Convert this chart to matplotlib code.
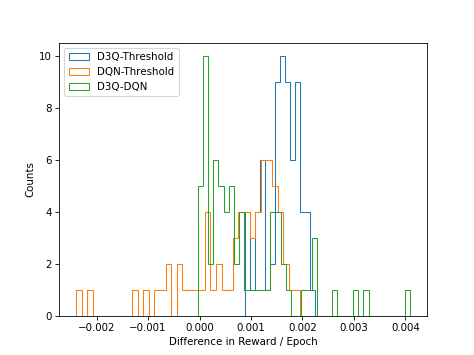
import numpy as np
import matplotlib
matplotlib.use("Agg")
import matplotlib.pyplot as plt

labels = ["D3Q-Threshold", "DQN-Threshold", "D3Q-DQN"]

# bin ranges (min, max) and counts per bin for each series
d3q_thr_range = (0.000883, 0.002243)
d3q_thr_counts = [4, 1, 4, 6, 1, 2, 9, 10, 9, 6, 9, 4, 4, 1]

dqn_thr_range = (-0.0024, 0.00195)
dqn_thr_counts = [1, 0, 1, 0, 0, 0, 0, 0, 0, 0,
                  1, 0, 1, 0, 1, 1, 2, 0, 2, 1,
                  1, 1, 1, 4, 1, 2, 1, 1, 3, 4,
                  4, 3, 4, 6, 6, 5, 4, 2, 1, 1]

d3q_dqn_range = (-0.000035, 0.004086)
d3q_dqn_counts = [5, 10, 2, 6, 5, 4, 5, 2, 4, 1,
                  1, 1, 1, 1, 4, 4, 2, 1, 0, 0,
                  1, 1, 3, 0, 0, 0, 1, 0, 0, 0,
                  1, 0, 1, 0, 0, 0, 0, 0, 0, 0, 1]

fig, ax = plt.subplots(figsize=(474 / 74, 355 / 74), dpi=74)

for rng, counts, lab in [(d3q_thr_range, d3q_thr_counts, labels[0]),
                         (dqn_thr_range, dqn_thr_counts, labels[1]),
                         (d3q_dqn_range, d3q_dqn_counts, labels[2])]:
    edges = np.linspace(rng[0], rng[1], len(counts) + 1)
    centers = 0.5 * (edges[:-1] + edges[1:])
    ax.hist(centers, bins=edges, weights=counts, histtype="step", label=lab)

ax.set_xlabel("Difference in Reward / Epoch")
ax.set_ylabel("Counts")
ax.legend(loc="upper left")
fig.savefig("out.png", dpi=74)
